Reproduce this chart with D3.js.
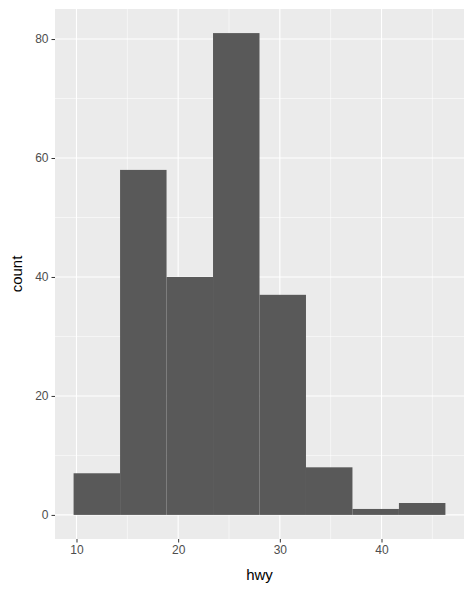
<!DOCTYPE html>
<html><head><meta charset="utf-8">
<script src="https://cdn.jsdelivr.net/npm/d3@7"></script>
<style>body{margin:0;background:#fff}</style></head>
<body><svg id="c" width="474" height="592"></svg>
<script>
const binEdges=[9.714,14.286,18.857,23.429,28.0,32.571,37.143,41.714,46.286];
const counts=[7,58,40,81,37,8,1,2];
const xTicks=[10,20,30,40];
const xMinor=[15,25,35,45];
const yTicks=[0,20,40,60,80];
const yMinor=[10,30,50,70];
const svg=d3.select("#c");
const L=55,R=464,T=9,B=539;
const x=d3.scaleLinear().domain([7.886,48.114]).range([L,R]);
const y=d3.scaleLinear().domain([-4.05,85.05]).range([B,T]);
svg.append("rect").attr("x",L).attr("y",T).attr("width",R-L).attr("height",B-T).attr("fill","#EBEBEB");
xMinor.forEach(v=>svg.append("line").attr("x1",x(v)).attr("x2",x(v)).attr("y1",T).attr("y2",B).attr("stroke","#fff").attr("stroke-width",0.55));
yMinor.forEach(v=>svg.append("line").attr("y1",y(v)).attr("y2",y(v)).attr("x1",L).attr("x2",R).attr("stroke","#fff").attr("stroke-width",0.55));
xTicks.forEach(v=>svg.append("line").attr("x1",x(v)).attr("x2",x(v)).attr("y1",T).attr("y2",B).attr("stroke","#fff").attr("stroke-width",1.1));
yTicks.forEach(v=>svg.append("line").attr("y1",y(v)).attr("y2",y(v)).attr("x1",L).attr("x2",R).attr("stroke","#fff").attr("stroke-width",1.1));
svg.selectAll(".bar").data(counts).enter().append("rect")
 .attr("x",(d,i)=>x(binEdges[i])).attr("width",(d,i)=>x(binEdges[i+1])-x(binEdges[i]))
 .attr("y",d=>y(d)).attr("height",d=>y(0)-y(d)).attr("fill","#595959");
const ax=svg.append("g").attr("transform",`translate(0,${B})`).call(d3.axisBottom(x).tickValues(xTicks).tickSize(3.5).tickPadding(3));
const ay=svg.append("g").attr("transform",`translate(${L},0)`).call(d3.axisLeft(y).tickValues(yTicks).tickSize(3.5).tickPadding(3));
[ax,ay].forEach(a=>{a.select(".domain").remove();a.selectAll("line").attr("stroke","#333");a.selectAll("text").attr("fill","#4D4D4D").style("font-size","12px").style("font-family","Liberation Sans, Arial, sans-serif");});
svg.append("text").attr("x",(L+R)/2).attr("y",580).attr("text-anchor","middle").style("font-size","15px").style("font-family","Liberation Sans, Arial, sans-serif").text("hwy");
svg.append("text").attr("transform",`translate(22,${(T+B)/2}) rotate(-90)`).attr("text-anchor","middle").style("font-size","15px").style("font-family","Liberation Sans, Arial, sans-serif").text("count");
</script></body></html>
